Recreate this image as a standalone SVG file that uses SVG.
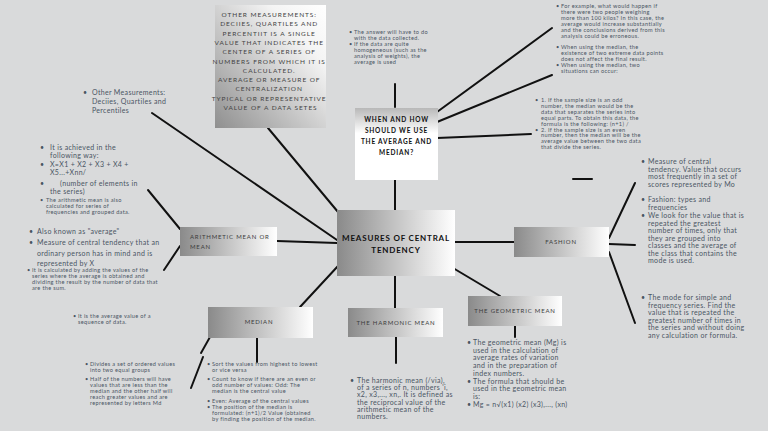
<svg xmlns="http://www.w3.org/2000/svg" width="768" height="431" viewBox="0 0 768 431">
<defs>
<linearGradient id="gh" x1="0" y1="0" x2="1" y2="0"><stop offset="0" stop-color="#8a8a8a"/><stop offset="1" stop-color="#ffffff"/></linearGradient>
<linearGradient id="gd" x1="0" y1="1" x2="1" y2="0"><stop offset="0" stop-color="#8f8f8f"/><stop offset="0.75" stop-color="#f4f4f4"/><stop offset="1" stop-color="#ffffff"/></linearGradient>
<linearGradient id="gv" x1="0" y1="0" x2="0" y2="1"><stop offset="0" stop-color="#b8b8b8"/><stop offset="0.35" stop-color="#ffffff"/><stop offset="1" stop-color="#ffffff"/></linearGradient>
<style>
.b{font-family:Lato,"Open Sans",sans-serif;font-size:7px;letter-spacing:0.33px;fill:#4a5563}
.s{font-family:Lato,"Open Sans",sans-serif;font-size:5.6px;letter-spacing:0.33px;fill:#4a5563}
.cap{font-family:Lato,"Open Sans",sans-serif;font-size:6px;letter-spacing:0.8px;fill:#3d3d3d}
.capt{font-family:Lato,"Open Sans",sans-serif;font-size:6.5px;letter-spacing:0.95px;fill:#444}
.hd{font-family:Lato,"Open Sans",sans-serif;font-weight:bold;fill:#111;letter-spacing:0.8px}
.c{stroke:#111;stroke-width:2;fill:none;stroke-linecap:round}
</style>
</defs>
<rect width="768" height="431" fill="#d9dadb"/>

<g id="connectors">
<line class="c" x1="268" y1="128" x2="338" y2="212"/>
<line class="c" x1="395" y1="84" x2="395" y2="107"/>
<line class="c" x1="395" y1="180" x2="395" y2="210"/>
<line class="c" x1="152" y1="113" x2="337" y2="240"/>
<line class="c" x1="148" y1="190" x2="180" y2="229"/>
<line class="c" x1="277" y1="241" x2="337" y2="243"/>
<line class="c" x1="180" y1="246" x2="164" y2="270"/>
<line class="c" x1="338" y1="266" x2="300" y2="307"/>
<line class="c" x1="395" y1="276" x2="395" y2="308"/>
<line class="c" x1="453" y1="268" x2="500" y2="296"/>
<line class="c" x1="455" y1="242" x2="514" y2="242"/>
<line class="c" x1="609" y1="238" x2="635" y2="183"/>
<line class="c" x1="609" y1="244" x2="635" y2="245"/>
<line class="c" x1="609" y1="252" x2="635" y2="323"/>
<line class="c" x1="437" y1="112" x2="552" y2="28"/>
<line class="c" x1="437" y1="122" x2="552" y2="75"/>
<line class="c" x1="437" y1="138" x2="531" y2="134"/>
<line class="c" x1="203" y1="357" x2="191" y2="388"/>
<line class="c" x1="210" y1="337" x2="201" y2="353"/>
<line class="c" x1="257" y1="338" x2="257" y2="362"/>
<line class="c" x1="396" y1="337" x2="396" y2="363"/>
<line class="c" x1="515" y1="326" x2="515" y2="337"/>
<line class="c" x1="573" y1="179" x2="592" y2="179"/>
</g>

<g id="top-box">
<rect x="215" y="5" width="111" height="123" fill="url(#gd)"/>
<text class="capt" text-anchor="middle">
<tspan x="270.5" y="17">OTHER MEASUREMENTS:</tspan>
<tspan x="270.5" y="26.3">DECIIES, QUARTILES AND</tspan>
<tspan x="270.5" y="35.6">PERCENTIIT IS A SINGLE</tspan>
<tspan x="270.5" y="44.9">VALUE THAT INDICATES THE</tspan>
<tspan x="270.5" y="54.2">CENTER OF A SERIES OF</tspan>
<tspan x="270.5" y="63.5">NUMBERS FROM WHICH IT IS</tspan>
<tspan x="270.5" y="72.8">CALCULATED.</tspan>
<tspan x="270.5" y="82.1">AVERAGE OR MEASURE OF</tspan>
<tspan x="270.5" y="91.4">CENTRALIZATION</tspan>
<tspan x="270.5" y="100.7">TYPICAL OR REPRESENTATIVE</tspan>
<tspan x="270.5" y="110">VALUE OF A DATA SETES</tspan>
</text>
</g>

<g id="other-measurements">
<text class="b"><tspan x="83" y="95">•</tspan><tspan x="92" y="95">Other Measurements:</tspan><tspan x="92" y="104">Deciies, Quartiles and</tspan><tspan x="92" y="113">Percentiles</tspan></text>
</g>

<g id="arith-notes">
<text class="b"><tspan x="40" y="150">•</tspan><tspan x="50" y="150">It is achieved in the</tspan><tspan x="50" y="158.3">following way:</tspan><tspan x="40" y="167">•</tspan><tspan x="50" y="167">X=X1 + X2 + X3 + X4 +</tspan><tspan x="50" y="175.3">X5...+Xnn/</tspan><tspan x="40" y="186">•</tspan><tspan x="60" y="186">(number of elements in</tspan><tspan x="50" y="194.3">the series)</tspan></text>
<text class="s"><tspan x="40" y="202">•</tspan><tspan x="46" y="202">The arithmetic mean is also</tspan><tspan x="46" y="208">calculated for series of</tspan><tspan x="46" y="214">frequencies and grouped data.</tspan></text>
<text class="b"><tspan x="29" y="234">•</tspan><tspan x="37" y="234">Also known as "average"</tspan><tspan x="29" y="245">•</tspan><tspan x="37" y="245">Measure of central tendency that an</tspan><tspan x="37" y="255.5">ordinary person has in mind and is</tspan><tspan x="37" y="266">represented by X</tspan></text>
<text class="s"><tspan x="27" y="272">•</tspan><tspan x="32" y="272">It is calculated by adding the values of the</tspan><tspan x="32" y="278">series where the average is obtained and</tspan><tspan x="32" y="284">dividing the result by the number of data that</tspan><tspan x="32" y="290">are the sum.</tspan></text>
<text class="s"><tspan x="73" y="318">•</tspan><tspan x="78" y="318">It is the average value of a</tspan><tspan x="78" y="324">sequence of data.</tspan></text>
</g>

<g id="when-how-notes">
<text class="s"><tspan x="349" y="34">•</tspan><tspan x="354" y="34">The answer will have to do</tspan><tspan x="354" y="40">with the data collected.</tspan><tspan x="349" y="46">•</tspan><tspan x="354" y="46">If the data are quite</tspan><tspan x="354" y="52">homogeneous (such as the</tspan><tspan x="354" y="58">analysis of weights), the</tspan><tspan x="354" y="64">average is used</tspan></text>
<text class="s"><tspan x="556" y="8">•</tspan><tspan x="561" y="8">For example, what would happen if</tspan><tspan x="561" y="13.9">there were two people weighing</tspan><tspan x="561" y="19.8">more than 100 kilos? In this case, the</tspan><tspan x="561" y="25.7">average would increase substantially</tspan><tspan x="561" y="31.6">and the conclusions derived from this</tspan><tspan x="561" y="37.5">analysis could be erroneous.</tspan><tspan x="556" y="49">•</tspan><tspan x="561" y="49">When using the median, the</tspan><tspan x="561" y="54.9">existence of two extreme data points</tspan><tspan x="561" y="60.8">does not affect the final result.</tspan><tspan x="556" y="66.7">•</tspan><tspan x="561" y="66.7">When using the median, two</tspan><tspan x="561" y="73">situations can occur:</tspan></text>
<text class="s"><tspan x="535" y="102">•</tspan><tspan x="541" y="102">1. If the sample size is an odd</tspan><tspan x="541" y="107.9">number, the median would be the</tspan><tspan x="541" y="113.8">data that separates the series into</tspan><tspan x="541" y="119.7">equal parts. To obtain this data, the</tspan><tspan x="541" y="125.6">formula is the following: (n+1) /</tspan><tspan x="535" y="131.5">•</tspan><tspan x="541" y="131.5">2. If the sample size is an even</tspan><tspan x="541" y="137.4">number, then the median will be the</tspan><tspan x="541" y="143.3">average value between the two data</tspan><tspan x="541" y="149.2">that divide the series.</tspan></text>
</g>

<g id="fashion-notes">
<text class="b"><tspan x="641" y="164">•</tspan><tspan x="648" y="164">Measure of central</tspan><tspan x="648" y="171.5">tendency. Value that occurs</tspan><tspan x="648" y="179">most frequently in a set of</tspan><tspan x="648" y="186.5">scores represented by Mo</tspan><tspan x="641" y="202">•</tspan><tspan x="648" y="202">Fashion: types and</tspan><tspan x="648" y="209.5">frequencies</tspan><tspan x="641" y="218">•</tspan><tspan x="648" y="218">We look for the value that is</tspan><tspan x="648" y="225.5">repeated the greatest</tspan><tspan x="648" y="233">number of times, only that</tspan><tspan x="648" y="240.5">they are grouped into</tspan><tspan x="648" y="248">classes and the average of</tspan><tspan x="648" y="255.5">the class that contains the</tspan><tspan x="648" y="263">mode is used.</tspan><tspan x="641" y="300">•</tspan><tspan x="648" y="300">The mode for simple and</tspan><tspan x="648" y="307.5">frequency series. Find the</tspan><tspan x="648" y="315">value that is repeated the</tspan><tspan x="648" y="322.5">greatest number of times in</tspan><tspan x="648" y="330">the series and without doing</tspan><tspan x="648" y="337.5">any calculation or formula.</tspan></text>
</g>

<g id="median-notes">
<text class="s"><tspan x="85" y="366">•</tspan><tspan x="90" y="366">Divides a set of ordered values</tspan><tspan x="90" y="372">into two equal groups</tspan><tspan x="85" y="381">•</tspan><tspan x="90" y="381">Half of the numbers will have</tspan><tspan x="90" y="387">values that are less than the</tspan><tspan x="90" y="393">median and the other half will</tspan><tspan x="90" y="399">reach greater values and are</tspan><tspan x="90" y="405">represented by letters Md</tspan></text>
<text class="s"><tspan x="207" y="366">•</tspan><tspan x="212" y="366">Sort the values from highest to lowest</tspan><tspan x="212" y="372">or vice versa</tspan><tspan x="207" y="381">•</tspan><tspan x="212" y="381">Count to know if there are an even or</tspan><tspan x="212" y="387">odd number of values: Odd: The</tspan><tspan x="212" y="393">median is the central value</tspan><tspan x="207" y="403">•</tspan><tspan x="212" y="403">Even: Average of the central values</tspan><tspan x="207" y="409">•</tspan><tspan x="212" y="409">The position of the median is</tspan><tspan x="212" y="415">formulated: (n+1)/2 Value (obtained</tspan><tspan x="212" y="421">by finding the position of the median.</tspan></text>
</g>

<g id="harmonic-notes">
<text class="b"><tspan x="350" y="383">•</tspan><tspan x="357" y="383">The harmonic mean (/via),</tspan><tspan x="357" y="390.2">of a series of n, numbers 'i,</tspan><tspan x="357" y="397.4">x2, x3,..., xn,. It is defined as</tspan><tspan x="357" y="404.6">the reciprocal value of the</tspan><tspan x="357" y="411.8">arithmetic mean of the</tspan><tspan x="357" y="419">numbers.</tspan></text>
</g>

<g id="geometric-notes">
<text class="b"><tspan x="467" y="345">•</tspan><tspan x="473" y="345">The geometric mean (Mg) is</tspan><tspan x="473" y="352.7">used in the calculation of</tspan><tspan x="473" y="360.4">average rates of variation</tspan><tspan x="473" y="368.1">and in the preparation of</tspan><tspan x="473" y="375.8">index numbers.</tspan><tspan x="467" y="383.5">•</tspan><tspan x="473" y="383.5">The formula that should be</tspan><tspan x="473" y="391.2">used in the geometric mean</tspan><tspan x="473" y="398.9">is:</tspan><tspan x="467" y="406.6">•</tspan><tspan x="473" y="406.6">Mg = n√(x1) (x2) (x3),..., (xn)</tspan></text>
</g>

<g id="when-how">
<rect x="355" y="108" width="83" height="72" fill="url(#gv)"/>
<text class="hd" font-size="6.5" text-anchor="middle"><tspan x="396.5" y="122">WHEN AND HOW</tspan><tspan x="396.5" y="133">SHOULD WE USE</tspan><tspan x="396.5" y="144">THE AVERAGE AND</tspan><tspan x="396.5" y="155">MEDIAN?</tspan></text>
</g>

<g id="central">
<rect x="337" y="210" width="118" height="66" fill="url(#gh)"/>
<text class="hd" font-size="8" text-anchor="middle"><tspan x="396" y="241">MEASURES OF CENTRAL</tspan><tspan x="396" y="253">TENDENCY</tspan></text>
</g>

<g id="arithmetic">
<rect x="180" y="227" width="97" height="29" fill="url(#gh)"/>
<text class="cap"><tspan x="190" y="239">ARITHMETIC MEAN OR</tspan><tspan x="190" y="249">MEAN</tspan></text>
</g>

<g id="median">
<rect x="208" y="307" width="105" height="31" fill="url(#gh)"/>
<text class="cap" text-anchor="middle" x="259" y="324">MEDIAN</text>
</g>

<g id="harmonic">
<rect x="348" y="308" width="95" height="29" fill="url(#gh)"/>
<text class="cap" text-anchor="middle" x="396" y="325">THE HARMONIC MEAN</text>
</g>

<g id="geometric">
<rect x="468" y="296" width="94" height="30" fill="url(#gh)"/>
<text class="cap" text-anchor="middle" x="515" y="313">THE GEOMETRIC MEAN</text>
</g>

<g id="fashion">
<rect x="514" y="227" width="95" height="30" fill="url(#gh)"/>
<text class="cap" text-anchor="middle" x="561" y="244">FASHION</text>
</g>
</svg>
